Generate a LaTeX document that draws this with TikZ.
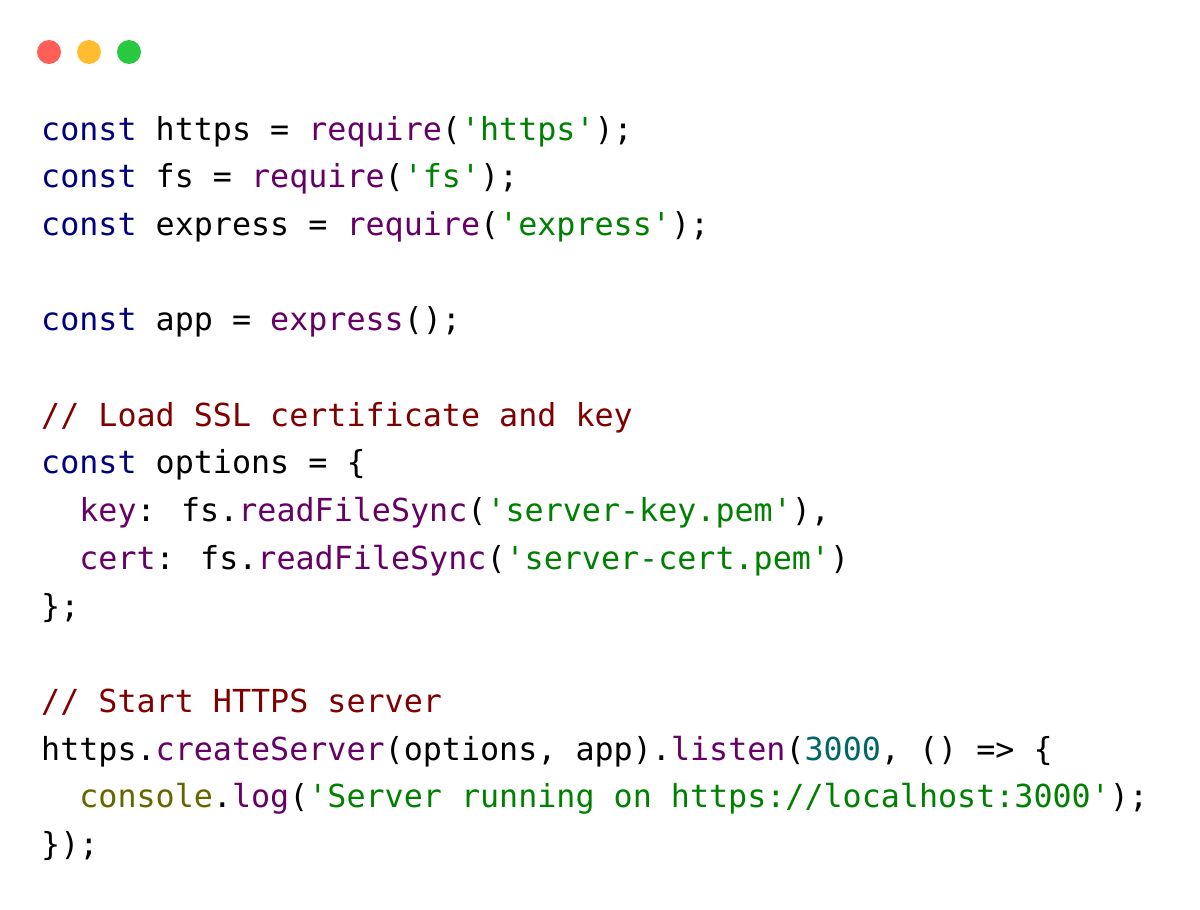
\documentclass[tikz,border=0pt]{standalone}
\usepackage{fontspec}
\newfontfamily\code{DejaVu Sans Mono}
\definecolor{kw}{HTML}{000080}
\definecolor{fn}{HTML}{660066}
\definecolor{st}{HTML}{008000}
\definecolor{cm}{HTML}{800000}
\definecolor{nm}{HTML}{006666}
\definecolor{ol}{HTML}{666600}
\definecolor{dr}{HTML}{FF5F57}
\definecolor{dy}{HTML}{FEBC2E}
\definecolor{dg}{HTML}{28C840}
\newcommand{\K}[1]{\textcolor{kw}{#1}}
\newcommand{\F}[1]{\textcolor{fn}{#1}}
\newcommand{\St}[1]{\textcolor{st}{#1}}
\newcommand{\Cm}[1]{\textcolor{cm}{#1}}
\newcommand{\Nm}[1]{\textcolor{nm}{#1}}
\newcommand{\Ol}[1]{\textcolor{ol}{#1}}
\begin{document}
\begin{tikzpicture}[x=1pt,y=1pt,
  ln/.style={anchor=base west,inner sep=0pt,font=\code\fontsize{31.7}{38}\selectfont}]
\useasboundingbox[fill=white] (0,0) rectangle (1200,-910);
\fill[dr] (49,-52) circle (12);
\fill[dy] (89,-52) circle (12);
\fill[dg] (129,-52) circle (12);
\node[ln] (l1) at (41,{-140}) {\K{const} https = \F{require}(\St{'https'});};
\node[ln] (l2) at (41,{-187.7}) {\K{const} fs = \F{require}(\St{'fs'});};
\node[ln] (l3) at (41,{-235.4}) {\K{const} express = \F{require}(\St{'express'});};
\node[ln] (l5) at (41,{-330.8}) {\K{const} app = \F{express}();};
\node[ln] (l7) at (41,{-426.2}) {\Cm{// Load SSL certificate and key}};
\node[ln] (l8) at (41,{-473.9}) {\K{const} options = \{};
\node[ln] (l9) at (41,{-521.6}) {\ \ \F{key}: fs.\F{readFileSync}(\St{'server-key.pem'}),};
\node[ln] (l10) at (41,{-569.3}) {\ \ \F{cert}: fs.\F{readFileSync}(\St{'server-cert.pem'})};
\node[ln] (l11) at (41,{-617}) {\};};
\node[ln] (l13) at (41,{-712.4}) {\Cm{// Start HTTPS server}};
\node[ln] (l14) at (41,{-760.1}) {https.\F{createServer}(options, app).\F{listen}(\Nm{3000}, () => \{};
\node[ln] (l15) at (41,{-807.8}) {\ \ \Ol{console}.\F{log}(\St{'Server running on https://localhost:3000'});};
\node[ln] (l16) at (41,{-855.5}) {\});};
\end{tikzpicture}
\end{document}
